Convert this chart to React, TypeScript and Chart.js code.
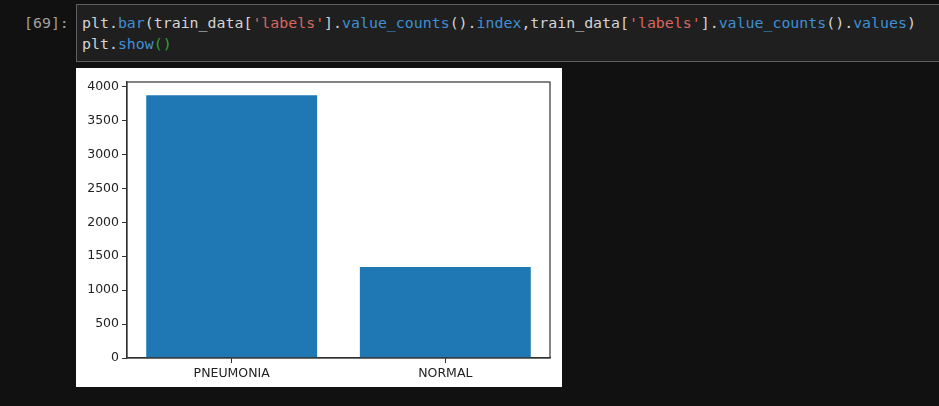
import { useEffect, useRef } from 'react'
import { Chart, registerables, type Plugin } from 'chart.js'

Chart.register(...registerables)

// value_counts() of the training labels
const categories = ['PNEUMONIA', 'NORMAL']
const counts = [3875, 1341]
const yTicks = [0, 500, 1000, 1500, 2000, 2500, 3000, 3500, 4000]

const MPL_FONT = { family: 'DejaVu Sans', size: 12.5 }
const SPINE = '#333333'

// matplotlib draws a full box round the axes
const axesFrame: Plugin = {
  id: 'axesFrame',
  afterDraw(chart) {
    const { ctx, chartArea: a } = chart
    ctx.save()
    ctx.strokeStyle = SPINE
    ctx.lineWidth = 1.2
    ctx.strokeRect(a.left, a.top, a.right - a.left, a.bottom - a.top)
    ctx.restore()
  },
}

function BarChart() {
  const canvasRef = useRef<HTMLCanvasElement | null>(null)
  const chartRef = useRef<Chart | null>(null)

  useEffect(() => {
    if (!canvasRef.current) return
    chartRef.current?.destroy()

    chartRef.current = new Chart(canvasRef.current, {
      type: 'bar',
      data: {
        datasets: [
          {
            data: counts.map((v, i) => ({ x: i, y: v })),
            backgroundColor: '#1f77b4',
            borderWidth: 0,
            barPercentage: 0.8,
            categoryPercentage: 1,
          },
        ],
      },
      options: {
        animation: false,
        responsive: true,
        maintainAspectRatio: false,
        layout: { padding: { top: 14, right: 12, bottom: 0, left: 0 } },
        plugins: { legend: { display: false }, tooltip: { enabled: false } },
        scales: {
          x: {
            type: 'linear',
            min: -0.49,
            max: 1.49,
            offset: false,
            afterBuildTicks: (s) => {
              s.ticks = categories.map((_, i) => ({ value: i }))
            },
            afterFit: (s) => {
              s.height = 29
            },
            grid: { offset: false, drawOnChartArea: false, drawTicks: true, tickLength: 5, color: SPINE },
            border: { display: true, color: SPINE, width: 1.2 },
            ticks: {
              padding: 3,
              color: '#222',
              font: MPL_FONT,
              maxRotation: 0,
              autoSkip: false,
              callback: (v) => categories[Number(v)] ?? '',
            },
          },
          y: {
            min: 0,
            max: 4068.75,
            afterBuildTicks: (s) => {
              s.ticks = yTicks.map((v) => ({ value: v }))
            },
            afterFit: (s) => {
              s.width = 51
            },
            grid: { drawOnChartArea: false, drawTicks: true, tickLength: 5, color: SPINE },
            border: { display: true, color: SPINE, width: 1.2 },
            ticks: {
              padding: 3,
              color: '#222',
              font: MPL_FONT,
              autoSkip: false,
              callback: (v) => String(v),
            },
          },
        },
      },
      plugins: [axesFrame],
    })

    return () => {
      chartRef.current?.destroy()
      chartRef.current = null
    }
  }, [])

  return <canvas ref={canvasRef} />
}

const mono = { fontFamily: '"DejaVu Sans Mono", "Liberation Mono", monospace', fontSize: 14.9 }
const C = { txt: '#d4d4d4', fn: '#3f8fd4', str: '#d96660', paren: '#2fa52f' }

export default function App() {
  return (
    <div style={{ position: 'fixed', inset: 0, background: '#111111', overflow: 'hidden' }}>
      <div style={{ ...mono, position: 'absolute', left: 24, top: 13, lineHeight: '21px', color: '#a0a0a0' }}>[69]:</div>
      <div
        style={{
          ...mono,
          position: 'absolute',
          left: 76,
          top: 4,
          width: 859,
          height: 48,
          background: '#1f1f1f',
          border: '1px solid #5e5e5e',
          boxSizing: 'content-box',
          color: C.txt,
          lineHeight: '21px',
          padding: '8px 0 0 5px',
          whiteSpace: 'pre',
        }}
      >
        <div>
          plt.<span style={{ color: C.fn }}>bar</span>(train_data[<span style={{ color: C.str }}>'labels'</span>].
          <span style={{ color: C.fn }}>value_counts</span>().<span style={{ color: C.fn }}>index</span>,train_data[
          <span style={{ color: C.str }}>'labels'</span>].<span style={{ color: C.fn }}>value_counts</span>().
          <span style={{ color: C.fn }}>values</span>)
        </div>
        <div>
          plt.<span style={{ color: C.fn }}>show</span>
          <span style={{ color: C.paren }}>()</span>
        </div>
      </div>
      <div style={{ position: 'absolute', left: 76, top: 68, width: 486, height: 319, background: '#ffffff' }}>
        <div style={{ position: 'relative', width: 486, height: 319 }}>
          <BarChart />
        </div>
      </div>
    </div>
  )
}
